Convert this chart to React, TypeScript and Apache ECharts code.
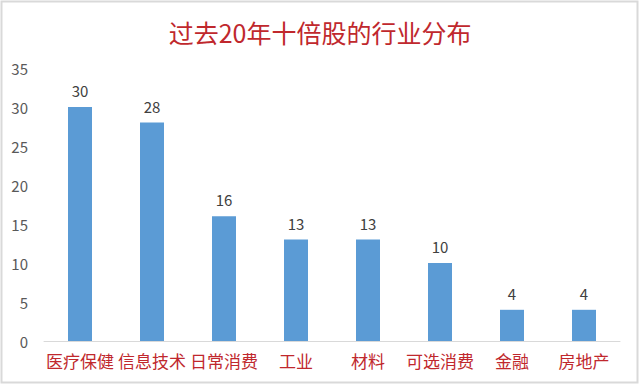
import React, { useEffect, useRef } from "react";
import * as echarts from "echarts";

const categories = ["医疗保健", "信息技术", "日常消费", "工业", "材料", "可选消费", "金融", "房地产"];
const counts = [30, 28, 16, 13, 13, 10, 4, 4];
const titleText = "过去20年十倍股的行业分布";

export default function App() {
  const ref = useRef<HTMLDivElement>(null);
  useEffect(() => {
    const chart = echarts.init(ref.current!, null, { renderer: "svg" });
    chart.setOption({
      animation: false,
      backgroundColor: "#ffffff",
      title: {
        text: titleText,
        left: "center",
        top: 14,
        textStyle: {
          color: "#c0282d",
          fontSize: 25,
          fontWeight: "normal",
          fontFamily: "Noto Sans CJK SC",
        },
      },
      graphic: [
        {
          type: "rect",
          shape: { x: 1.5, y: 1.5, width: 636, height: 381 },
          style: { fill: "none", stroke: "#d9d9d9", lineWidth: 2 },
          silent: true,
        },
      ],
      grid: { left: 44, right: 20, top: 68, bottom: 44 },
      xAxis: {
        type: "category",
        data: categories,
        axisLine: { lineStyle: { color: "#d9d9d9" } },
        axisTick: { show: false },
        axisLabel: {
          color: "#c0282d",
          fontSize: 17,
          fontFamily: "Noto Sans CJK SC",
          margin: 11,
          interval: 0,
        },
      },
      yAxis: {
        type: "value",
        min: 0,
        max: 35,
        interval: 5,
        splitLine: { show: false },
        axisLine: { show: false },
        axisTick: { show: false },
        axisLabel: {
          color: "#595959",
          fontSize: 15,
          fontFamily: "Noto Sans CJK SC",
          margin: 16,
        },
      },
      series: [
        {
          type: "bar",
          data: counts,
          barWidth: 24,
          itemStyle: { color: "#5b9bd5" },
          label: {
            show: true,
            position: "top",
            distance: 9,
            color: "#404040",
            fontSize: 15,
            fontFamily: "Noto Sans CJK SC",
          },
        },
      ],
    });
    return () => chart.dispose();
  }, []);
  return (
    <div
      ref={ref}
      style={{ position: "fixed", left: 0, top: 0, width: 640, height: 385 }}
    />
  );
}
